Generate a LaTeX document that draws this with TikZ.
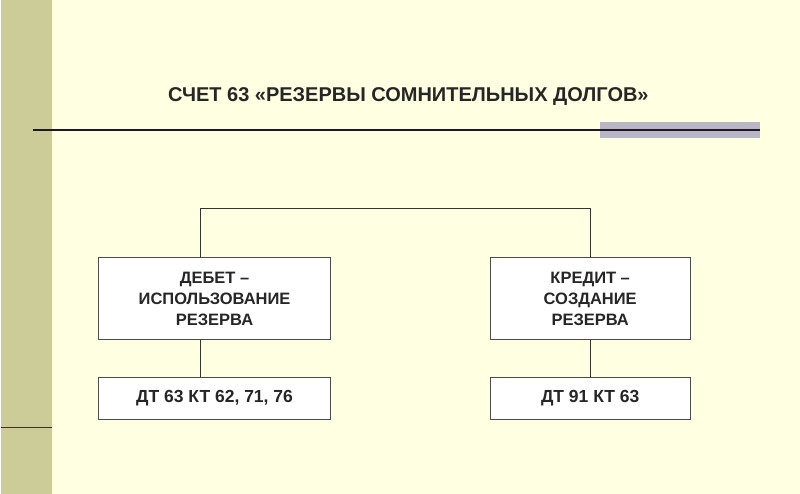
\documentclass[tikz,border=0pt]{standalone}
\usepackage{fontspec}
\setmainfont{Liberation Sans}
\begin{document}
\begin{tikzpicture}[x=1pt,y=-1pt,
  box/.style={draw=black!70,line width=0.8pt,fill=white,inner sep=0pt,align=center,text=black!85,font=\bfseries\fontsize{16.5}{21}\selectfont},
  conn/.style={draw=black!80,line width=0.8pt}]
\fill[fill={rgb,255:red,255;green,255;blue,225}] (0,0) rectangle (800,494);
\fill[fill={rgb,255:red,204;green,204;blue,153}] (0,0) rectangle (51,494);
\draw[line width=1.5pt,draw={rgb,255:red,60;green,50;blue,40}] (0,428) -- (51,428);
\node[font=\bfseries\fontsize{20}{24}\selectfont,text=black!85] (title) at (408,97) {СЧЕТ 63 «РЕЗЕРВЫ СОМНИТЕЛЬНЫХ ДОЛГОВ»};
\fill[fill={rgb,255:red,185;green,182;blue,198}] (600,122) rectangle (760,138);
\draw[line width=1.5pt,draw={rgb,255:red,30;green,25;blue,40}] (32,130) -- (760,130);
\node[box,minimum width=232pt,minimum height=82pt] (deb) at (214,299) {ДЕБЕТ –\\ИСПОЛЬЗОВАНИЕ\\РЕЗЕРВА};
\node[box,minimum width=200pt,minimum height=82pt] (kred) at (590,299) {КРЕДИТ –\\СОЗДАНИЕ\\РЕЗЕРВА};
\node[box,font=\bfseries\fontsize{17.5}{21}\selectfont,minimum width=232pt,minimum height=42pt] (dt1) at (214,399) {ДТ 63 КТ 62, 71, 76};
\node[box,font=\bfseries\fontsize{17.5}{21}\selectfont,minimum width=200pt,minimum height=42pt] (dt2) at (590,399) {ДТ 91 КТ 63};
\coordinate (tl) at (200,209);
\coordinate (tr) at (590,209);
\draw[conn] (deb.north -| tl) -- (tl) -- (tr) -- (kred.north);
\draw[conn] (deb.south -| tl) -- (dt1.north -| tl);
\draw[conn] (kred.south) -- (dt2.north);
\end{tikzpicture}
\end{document}
